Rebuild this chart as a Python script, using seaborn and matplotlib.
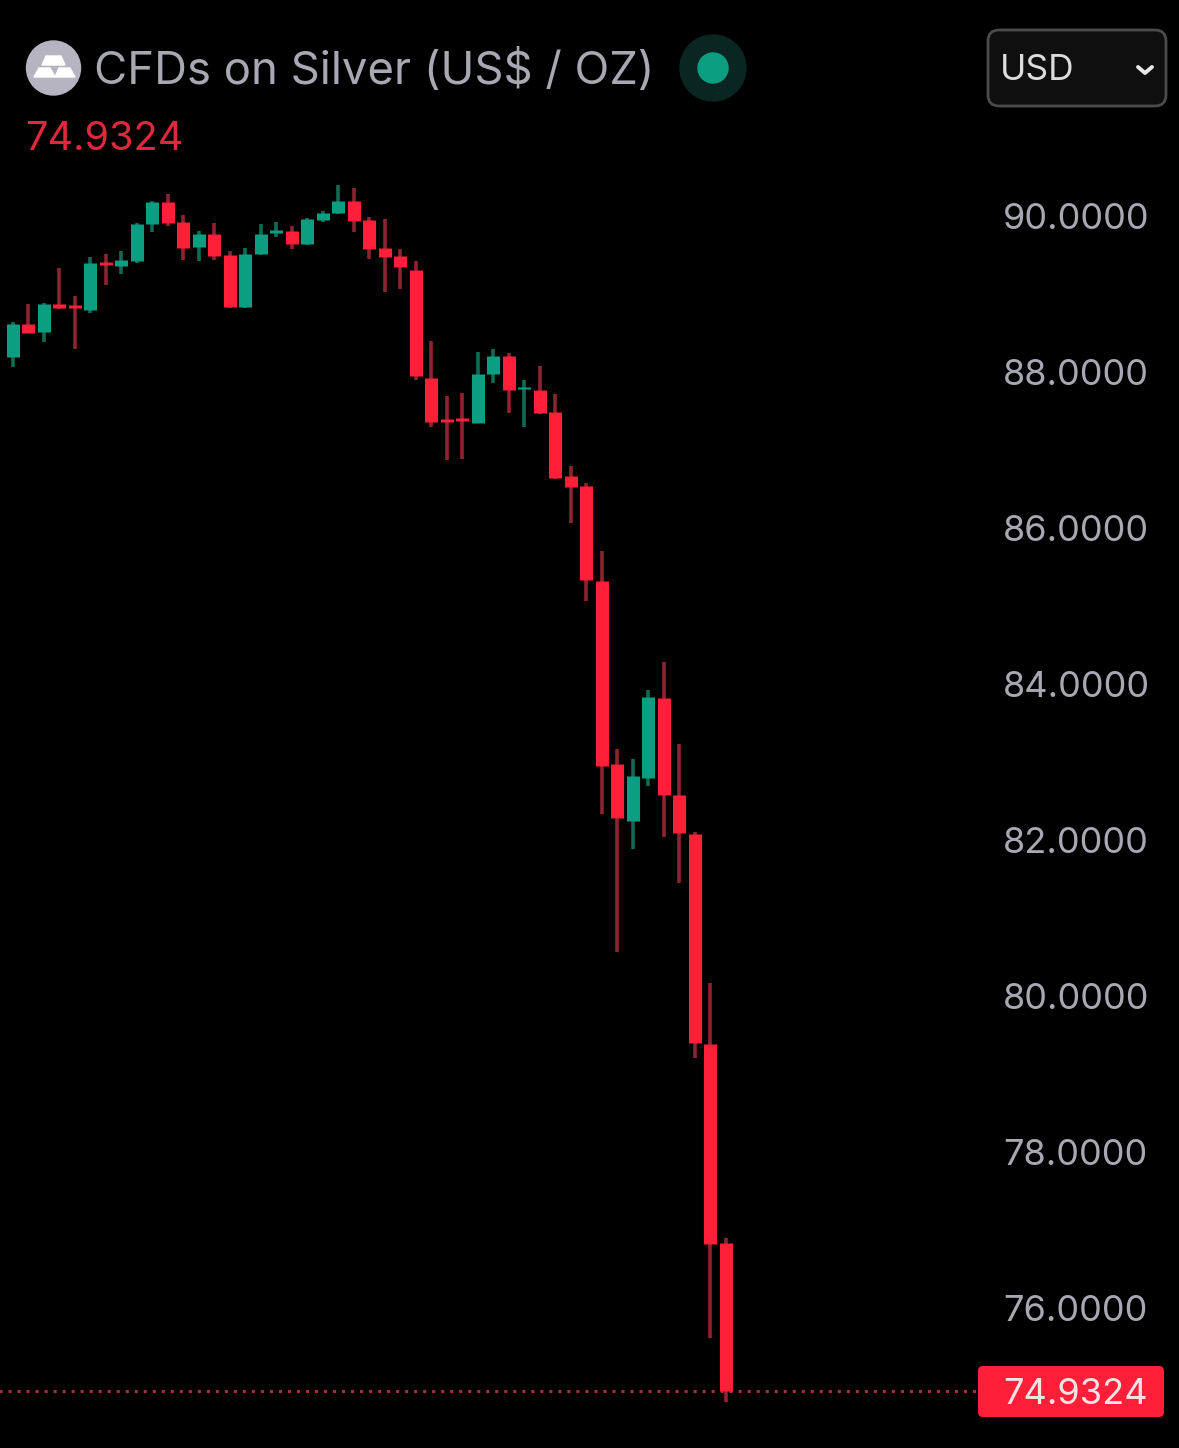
import matplotlib
matplotlib.use("Agg")
import matplotlib.pyplot as plt
from matplotlib.patches import Circle, FancyBboxPatch, Polygon
import numpy as np
import pandas as pd
import seaborn as sns

# Candle values, oldest first
opens = [88.13, 88.19, 88.62, 88.51, 88.87, 88.86, 88.80, 89.41, 89.36, 89.42, 89.90, 90.18,
         89.92, 89.60, 89.77, 89.50, 88.83, 89.51, 89.78, 89.81, 89.64, 89.95, 90.04, 90.19,
         89.95, 89.59, 89.49, 89.31, 87.92, 87.40, 87.41, 87.35, 87.97, 88.21, 87.78, 87.77,
         87.49, 86.67, 86.54, 85.32, 82.97, 82.24, 82.79, 83.82, 82.58, 82.08, 79.38, 76.83]
highs = [88.21, 88.64, 88.87, 88.88, 89.33, 88.97, 89.47, 89.51, 89.55, 89.91, 90.19, 90.28,
         90.01, 89.81, 89.91, 89.55, 89.59, 89.90, 89.92, 89.87, 89.97, 90.06, 90.40, 90.36,
         89.99, 89.96, 89.58, 89.42, 88.40, 87.69, 87.73, 88.26, 88.29, 88.24, 87.90, 88.08,
         87.72, 86.79, 86.58, 85.71, 83.17, 83.04, 83.92, 84.28, 83.23, 82.10, 80.17, 76.90]
lows = [88.08, 88.06, 88.50, 88.38, 88.81, 88.30, 88.76, 89.12, 89.26, 89.40, 89.79, 89.87,
        89.44, 89.42, 89.44, 88.82, 88.82, 89.50, 89.73, 89.58, 89.63, 89.92, 90.03, 89.79,
        89.45, 89.03, 89.06, 87.90, 87.29, 86.87, 86.88, 87.34, 87.86, 87.47, 87.29, 87.46,
        86.63, 86.06, 85.06, 82.33, 80.56, 81.88, 82.69, 82.04, 81.45, 79.21, 75.62, 74.80]
closes = [88.18, 88.62, 88.50, 88.87, 88.82, 88.82, 89.40, 89.37, 89.44, 89.90, 90.18, 89.91,
          89.59, 89.77, 89.49, 88.83, 89.51, 89.77, 89.82, 89.64, 89.96, 90.04, 90.19, 89.94,
          89.58, 89.47, 89.35, 87.95, 87.36, 87.36, 87.37, 87.97, 88.21, 87.77, 87.81, 87.47,
          86.64, 86.53, 85.33, 82.95, 82.28, 82.82, 83.83, 82.58, 82.09, 79.40, 76.82, 74.9324]

price_ticks = [76, 78, 80, 82, 84, 86, 88, 90]
last_price = 74.9324

RED = "#FF1F38"
GREEN = "#0C9E80"
RED_WICK = "#8E2331"
GREEN_WICK = "#0F6B55"
GREY = "#A8A8B2"

sns.set_theme(style="dark", rc={"figure.facecolor": "black", "axes.facecolor": "black"})
plt.rcParams["font.family"] = ["Inter", "DejaVu Sans"]

fig = plt.figure(figsize=(11.79, 14.48), dpi=100)
# axes starts a little left of the canvas so the first cut-off candle still draws
ax = fig.add_axes([-20 / 1179, 0, 998 / 1179, 1])

candles = pd.DataFrame({"slot": np.arange(len(opens)), "open": opens, "high": highs,
                        "low": lows, "close": closes})
candles["side"] = np.where(candles["close"] >= candles["open"], "up", "down")

# each candle is two short vertical lines: the wick and the thick body
wicks = candles.melt(id_vars=["slot", "side"], value_vars=["low", "high"], value_name="price")
bodies = candles.melt(id_vars=["slot", "side"], value_vars=["open", "close"], value_name="price")

ax.axhline(last_price, color="#A5303D", lw=2.2, ls=(0, (1, 1.95)), zorder=1)

sns.lineplot(data=wicks, x="slot", y="price", hue="side", units="slot", estimator=None,
             palette={"up": GREEN_WICK, "down": RED_WICK}, lw=2.6, sort=False,
             solid_capstyle="butt", legend=False, ax=ax, zorder=2)
sns.lineplot(data=bodies, x="slot", y="price", hue="side", units="slot", estimator=None,
             palette={"up": GREEN, "down": RED}, lw=9.4, sort=False,
             solid_capstyle="butt", legend=False, ax=ax, zorder=3)

ax.set_xlim(-1.129, 63.26)
ax.set_ylim(74.205, 92.769)
ax.set_xlabel("")
ax.set_ylabel("")
ax.set_xticks([])
ax.yaxis.tick_right()
ax.set_yticks(price_ticks)
ax.set_yticklabels([f"{p:.4f}" for p in price_ticks])
ax.tick_params(axis="y", length=0, pad=18, labelsize=26, labelcolor=GREY)
ax.grid(False)
sns.despine(ax=ax, left=True, bottom=True, right=True, top=True)

# header widgets, placed in pixel coordinates
over = fig.add_axes([0, 0, 1, 1], facecolor="none")
over.set_xlim(0, 1179)
over.set_ylim(1448, 0)
over.axis("off")

over.add_patch(Circle((53.5, 68), 27, color="#B5B4C0"))
for bar in ([(46, 56), (61, 56), (65, 65), (42, 65)],
            [(39, 68), (50, 68), (55, 77), (34, 77)],
            [(59, 68), (70, 68), (75, 77), (55, 77)]):
    over.add_patch(Polygon(bar, closed=True, color="white"))

over.text(94, 71, "CFDs on Silver (US$ / OZ)", color=GREY, fontsize=32.75, va="center", ha="left")
over.text(25, 139, "74.9324", color="#E0283C", fontsize=28.5, va="center", ha="left")

over.add_patch(Circle((713, 68), 33, color="#0A2623"))
over.add_patch(Circle((713, 68), 15, color=GREEN))

over.add_patch(FancyBboxPatch((997, 39), 160, 58, boxstyle="round,pad=9,rounding_size=11",
                              fc="#0F0F0F", ec="#4B4B4B", lw=2))
over.text(1000, 70, "USD", color="#DCDCDC", fontsize=25.5, va="center", ha="left")
over.plot([1138, 1145, 1152], [67, 73, 67], color="#E8E8E8", lw=2.8)

over.add_patch(FancyBboxPatch((981, 1369), 180, 45, boxstyle="round,pad=3,rounding_size=5",
                              fc=RED, ec="none"))
over.text(1003, 1394, "74.9324", color="#F7E3E5", fontsize=26, va="center", ha="left")

fig.savefig("out.png", dpi=100, facecolor="black")
plt.close(fig)
